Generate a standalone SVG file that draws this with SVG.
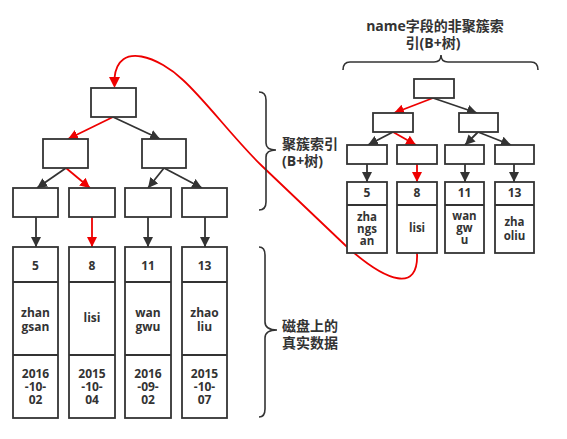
<svg xmlns="http://www.w3.org/2000/svg" width="567" height="439" viewBox="0 0 567 439">
<style>
.box{fill:#fff;stroke:#333;stroke-width:1.8}
.ln{fill:none;stroke:#333;stroke-width:1.8}
.rl{fill:none;stroke:#e00;stroke-width:1.8}
.br{fill:none;stroke:#333;stroke-width:1.6}
.t{font-family:"Open Sans","Noto Sans CJK SC",sans-serif;font-weight:700;fill:#333;text-anchor:middle}
.d{font-size:12px}
.s{font-size:11.5px}
.l{font-size:14px;text-anchor:start}
</style>
<defs>
<marker id="ab" viewBox="0 0 10 10" refX="10" refY="5" markerWidth="10" markerHeight="10" markerUnits="userSpaceOnUse" orient="auto"><path d="M0,0 L10,5 L0,10 z" fill="#333"/></marker>
<marker id="ar" viewBox="0 0 10 10" refX="10" refY="5" markerWidth="10" markerHeight="10" markerUnits="userSpaceOnUse" orient="auto"><path d="M0,0 L10,5 L0,10 z" fill="#e00"/></marker>
</defs>
<rect width="567" height="439" fill="#fff"/>

<g id="connectors">
<line class="rl" x1="113" y1="117" x2="68" y2="139" marker-end="url(#ar)"/>
<line class="ln" x1="113" y1="117" x2="160" y2="139" marker-end="url(#ab)"/>
<line class="ln" x1="66" y1="168" x2="37" y2="188" marker-end="url(#ab)"/>
<line class="rl" x1="66" y1="168" x2="90" y2="188" marker-end="url(#ar)"/>
<line class="ln" x1="164" y1="168" x2="148" y2="188" marker-end="url(#ab)"/>
<line class="ln" x1="164" y1="168" x2="202" y2="188" marker-end="url(#ab)"/>
<line class="ln" x1="36" y1="217" x2="36" y2="247" marker-end="url(#ab)"/>
<line class="rl" x1="92" y1="217" x2="92" y2="247" marker-end="url(#ar)"/>
<line class="ln" x1="148" y1="217" x2="148" y2="247" marker-end="url(#ab)"/>
<line class="ln" x1="205" y1="217" x2="205" y2="247" marker-end="url(#ab)"/>
<line class="rl" x1="433" y1="98" x2="394" y2="113" marker-end="url(#ar)"/>
<line class="ln" x1="433" y1="98" x2="477" y2="113" marker-end="url(#ab)"/>
<line class="ln" x1="393" y1="132" x2="368" y2="145" marker-end="url(#ab)"/>
<line class="rl" x1="393" y1="132" x2="416" y2="145" marker-end="url(#ar)"/>
<line class="ln" x1="478" y1="132" x2="465" y2="145" marker-end="url(#ab)"/>
<line class="ln" x1="478" y1="132" x2="511" y2="145" marker-end="url(#ab)"/>
<line class="ln" x1="367" y1="164" x2="367" y2="182" marker-end="url(#ab)"/>
<line class="rl" x1="417" y1="164" x2="417" y2="182" marker-end="url(#ar)"/>
<line class="ln" x1="465" y1="164" x2="465" y2="182" marker-end="url(#ab)"/>
<line class="ln" x1="514" y1="164" x2="514" y2="182" marker-end="url(#ab)"/>
<path class="rl" d="M417,253 C419,292 388,284 345,245 L262,166 C235,140 205,100 183,80 C160,58 118,40 114.5,78"/>
<path d="M109,77 L114.5,88 L120,77 z" fill="#e00"/>
</g>

<g id="left-root"><rect class="box" x="91" y="88" width="45" height="29"/></g>
<g id="left-l2a"><rect class="box" x="43" y="139" width="45" height="29"/></g>
<g id="left-l2b"><rect class="box" x="142" y="139" width="44" height="29"/></g>
<g id="left-l3a"><rect class="box" x="13" y="188" width="45" height="29"/></g>
<g id="left-l3b"><rect class="box" x="69" y="188" width="46" height="29"/></g>
<g id="left-l3c"><rect class="box" x="125" y="188" width="46" height="29"/></g>
<g id="left-l3d"><rect class="box" x="182" y="188" width="45" height="29"/></g>

<g id="row1">
<rect class="box" x="13" y="247" width="45" height="171"/>
<line class="ln" x1="13" y1="282" x2="58" y2="282"/><line class="ln" x1="13" y1="355" x2="58" y2="355"/>
<text class="t d" x="35.5" y="270">5</text>
<text class="t d" x="35.5" y="317">zhan<tspan x="35.5" dy="14">gsan</tspan></text>
<text class="t d" x="35.5" y="378">2016<tspan x="35.5" dy="13">-10-</tspan><tspan x="35.5" dy="13">02</tspan></text>
</g>
<g id="row2">
<rect class="box" x="69" y="247" width="46" height="171"/>
<line class="ln" x1="69" y1="282" x2="115" y2="282"/><line class="ln" x1="69" y1="355" x2="115" y2="355"/>
<text class="t d" x="92" y="270">8</text>
<text class="t d" x="92" y="322">lisi</text>
<text class="t d" x="92" y="378">2015<tspan x="92" dy="13">-10-</tspan><tspan x="92" dy="13">04</tspan></text>
</g>
<g id="row3">
<rect class="box" x="125" y="247" width="46" height="171"/>
<line class="ln" x1="125" y1="282" x2="171" y2="282"/><line class="ln" x1="125" y1="355" x2="171" y2="355"/>
<text class="t d" x="148" y="270">11</text>
<text class="t d" x="148" y="317">wan<tspan x="148" dy="14">gwu</tspan></text>
<text class="t d" x="148" y="378">2016<tspan x="148" dy="13">-09-</tspan><tspan x="148" dy="13">02</tspan></text>
</g>
<g id="row4">
<rect class="box" x="182" y="247" width="45" height="171"/>
<line class="ln" x1="182" y1="282" x2="227" y2="282"/><line class="ln" x1="182" y1="355" x2="227" y2="355"/>
<text class="t d" x="204.5" y="270">13</text>
<text class="t d" x="204.5" y="317">zhao<tspan x="204.5" dy="14">liu</tspan></text>
<text class="t d" x="204.5" y="378">2015<tspan x="204.5" dy="13">-10-</tspan><tspan x="204.5" dy="13">07</tspan></text>
</g>

<g id="brace-clustered">
<path class="br" d="M259,92 Q266,92 266,100 L266,143 Q266,150 276,150 Q266,150 266,157 L266,202 Q266,210 259,210"/>
<text class="t l" x="282" y="149">聚簇索引<tspan x="282" dy="17">(B+树)</tspan></text>
</g>
<g id="brace-data">
<path class="br" d="M259,247 Q265,247 265,255 L265,322 Q265,330 277,330 Q265,330 265,338 L265,409 Q265,417 259,417"/>
<text class="t l" x="282" y="331">磁盘上的<tspan x="282" dy="17">真实数据</tspan></text>
</g>

<g id="brace-secondary">
<path class="br" d="M343,70 Q343,62 350,62 L434,62 Q441,62 441,55 Q441,62 448,62 L531,62 Q538,62 538,70"/>
<text class="t" x="435" y="31" font-size="14">name字段的非聚簇索<tspan x="433" dy="17">引(B+树)</tspan></text>
</g>

<g id="right-root"><rect class="box" x="414" y="79" width="40" height="19"/></g>
<g id="right-l2a"><rect class="box" x="373" y="113" width="40" height="19"/></g>
<g id="right-l2b"><rect class="box" x="459" y="113" width="39" height="19"/></g>
<g id="right-l3a"><rect class="box" x="347" y="145" width="40" height="19"/></g>
<g id="right-l3b"><rect class="box" x="397" y="145" width="40" height="19"/></g>
<g id="right-l3c"><rect class="box" x="445" y="145" width="39" height="19"/></g>
<g id="right-l3d"><rect class="box" x="495" y="145" width="39" height="19"/></g>

<g id="rrow1">
<rect class="box" x="347" y="182" width="40" height="71"/><line class="ln" x1="347" y1="205" x2="387" y2="205"/>
<text class="t d" x="367" y="197">5</text>
<text class="t s" x="367" y="221">zha<tspan x="367" dy="12">ngs</tspan><tspan x="367" dy="12">an</tspan></text>
</g>
<g id="rrow2">
<rect class="box" x="397" y="182" width="40" height="71"/><line class="ln" x1="397" y1="205" x2="437" y2="205"/>
<text class="t d" x="417" y="197">8</text>
<text class="t s" x="417" y="232">lisi</text>
</g>
<g id="rrow3">
<rect class="box" x="445" y="182" width="39" height="71"/><line class="ln" x1="445" y1="205" x2="484" y2="205"/>
<text class="t d" x="464.5" y="197">11</text>
<text class="t s" x="464.5" y="220">wan<tspan x="464.5" dy="12">gw</tspan><tspan x="464.5" dy="12">u</tspan></text>
</g>
<g id="rrow4">
<rect class="box" x="495" y="182" width="39" height="71"/><line class="ln" x1="495" y1="205" x2="534" y2="205"/>
<text class="t d" x="514.5" y="197">13</text>
<text class="t s" x="514.5" y="226">zha<tspan x="514.5" dy="14">oliu</tspan></text>
</g>
</svg>
